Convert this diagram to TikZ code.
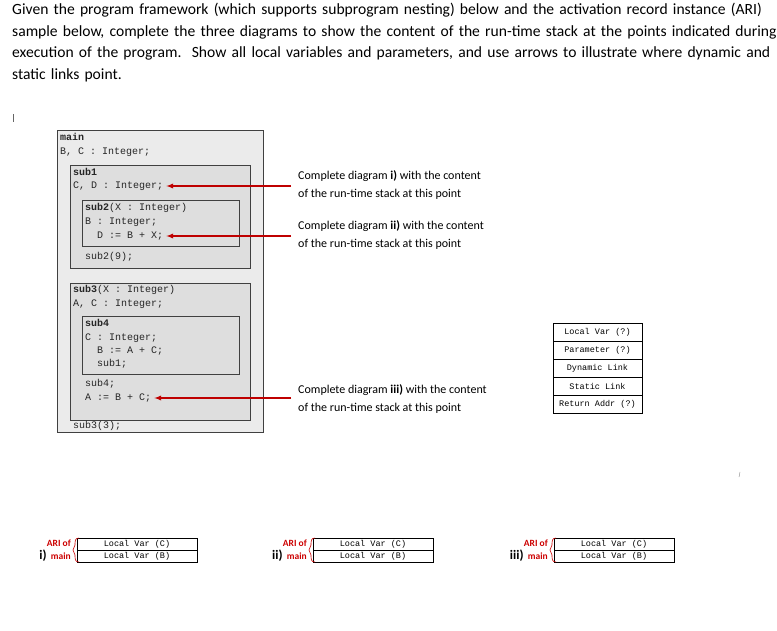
\documentclass[tikz,border=0pt]{standalone}
\usepackage{fontspec}
\usetikzlibrary{positioning}
\setmainfont{Carlito}
\newfontfamily\codef{Liberation Mono}
\begin{document}
\begin{tikzpicture}[x=1pt,y=-1pt,
  blk/.style={draw=black!75,fill=black!8,line width=0.8pt},
  blk2/.style={draw=black!75,fill=black!13,line width=0.8pt},
  code/.style={anchor=west,inner sep=0pt,font=\codef\fontsize{10}{11}\selectfont,text=black!85},
  note/.style={anchor=west,inner sep=0pt,font=\fontsize{12}{18}\selectfont,align=left},
  rarr/.style={draw=red!75!black,line width=1.3pt,-latex},
  cell/.style={draw,minimum width=89pt,minimum height=17.6pt,inner sep=0pt,font=\codef\fontsize{8.5}{9}\selectfont},
  bcell/.style={draw,line width=0.8pt,minimum width=120pt,minimum height=12pt,inner sep=0pt,font=\codef\fontsize{8.5}{9}\selectfont},
  red/.style={text=red!80!black,font=\fontsize{9.5}{10}\selectfont\bfseries,inner sep=0pt}]
\useasboundingbox (0,0) rectangle (777,631);
\node[anchor=north west,inner sep=0pt,text width=765pt,align=left,font=\fontsize{15.6}{21.5}\selectfont] (hdr) at (12,3)
{\hyphenpenalty=10000 Given the program framework (which supports subprogram nesting) below and the activation record instance (ARI) sample below, complete the three diagrams to show the content of the run-time stack at the points indicated during execution of the program.\ \ Show all local variables and parameters, and use arrows to illustrate where dynamic and static links point.};
\draw[black!60] (13,114) -- (13,122);
% boxes
\draw[blk] (57,130) rectangle (263,432);
\draw[blk2] (70,165) rectangle (250,268);
\draw[blk2] (82,200) rectangle (239,246);
\draw[blk2] (70,283) rectangle (250,420);
\draw[blk2] (82,316) rectangle (239,374);
\node[code] (m1) at (60,137) {\bfseries main};
\node[code] (m2) at (60,152) {B, C : Integer;};
\node[code] (a1) at (73,172) {\bfseries sub1};
\node[code] (a2) at (73,186) {C, D : Integer;};
\node[code] (b1) at (85,208) {\bfseries sub2\mdseries (X : Integer)};
\node[code] (b2) at (85,222) {B : Integer;};
\node[code] (b3) at (97,236) {D := B + X;};
\node[code] (a3) at (85,257) {sub2(9);};
\node[code] (c1) at (73,290) {\bfseries sub3\mdseries (X : Integer)};
\node[code] (c2) at (73,304) {A, C : Integer;};
\node[code] (d1) at (85,323) {\bfseries sub4};
\node[code] (d2) at (85,338) {C : Integer;};
\node[code] (d3) at (97,351) {B := A + C;};
\node[code] (d4) at (97,364) {sub1;};
\node[code] (c3) at (85,384) {sub4;};
\node[code] (c4) at (85,398) {A := B + C;};
\node[code] (m3) at (73,426) {sub3(3);};
% notes
\node[note] (n1) at (298,185) {Complete diagram \textbf{i)} with the content\\of the run-time stack at this point};
\node[note] (n2) at (298,235) {Complete diagram \textbf{ii)} with the content\\of the run-time stack at this point};
\node[note] (n3) at (298,399) {Complete diagram \textbf{iii)} with the content\\of the run-time stack at this point};
\coordinate (s1) at (291,186); \coordinate (s2) at (291,236); \coordinate (s3) at (291,398);
\draw[rarr] (s1) -- ([xshift=3pt]a2.east);
\draw[rarr] (s2) -- ([xshift=3pt]b3.east);
\draw[rarr] (s3) -- ([xshift=3pt]c4.east);
% ARI sample
\node[cell] (r1) at (597.5,332) {Local Var (?)};
\node[cell,below=0pt of r1] (r2) {Parameter (?)};
\node[cell,below=0pt of r2] (r3) {Dynamic Link};
\node[cell,below=0pt of r3] (r4) {Static Link};
\node[cell,below=0pt of r4] (r5) {Return Addr (?)};
\draw[black!50] (740,472) -- (739,477);
% bottom diagrams
\foreach \n/\lab/\tx in {i/i)/137, ii/ii)/373, iii/iii)/614}{
  \pgfmathsetmacro{\bx}{\tx-58}
  \pgfmathsetmacro{\cx}{\tx-62}
  \pgfmathsetmacro{\dx}{\tx-64}
  \pgfmathsetmacro{\ex}{\tx-66}
  \node[bcell] (\n c) at (\tx,544) {Local Var (C)};
  \node[bcell,below=0pt of \n c] (\n b) {Local Var (B)};
  \node[red,anchor=east] (\n a) at (\ex,543) {ARI of};
  \node[red,anchor=east] (\n m) at (\ex,556) {main};
  \draw[red!80!black,line width=0.6pt] (\bx,538) .. controls (\cx,538) and (\cx,541) .. (\cx,545) -- (\dx,550) -- (\cx,555) .. controls (\cx,559) and (\cx,562) .. (\bx,562);
  \node[anchor=east,inner sep=0pt,font=\fontsize{13}{14}\selectfont\bfseries] (\n l) at ([xshift=-4pt]\n m.west) {\lab};
}
\end{tikzpicture}
\end{document}
